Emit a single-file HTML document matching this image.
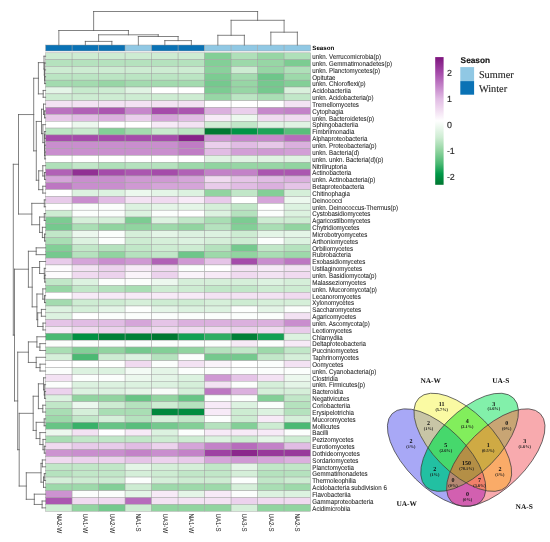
<!DOCTYPE html><html><head><meta charset="utf-8"><style>html,body{margin:0;padding:0;background:#fff;}svg{display:block}text{font-family:"Liberation Sans",sans-serif}.sf{font-family:"Liberation Serif",serif}</style></head><body>
<svg width="550" height="542" viewBox="0 0 550 542" style="transform:translateZ(0)" text-rendering="geometricPrecision">
<g stroke="#a0a0a0" stroke-width="0.45">
<rect x="45.60" y="52.80" width="26.50" height="6.843" fill="#cdecd2"/>
<rect x="72.10" y="52.80" width="26.50" height="6.843" fill="#cdecd2"/>
<rect x="98.60" y="52.80" width="26.50" height="6.843" fill="#cdecd2"/>
<rect x="125.10" y="52.80" width="26.50" height="6.843" fill="#cdecd2"/>
<rect x="151.60" y="52.80" width="26.50" height="6.843" fill="#cdecd2"/>
<rect x="178.10" y="52.80" width="26.50" height="6.843" fill="#cdecd2"/>
<rect x="204.60" y="52.80" width="26.50" height="6.843" fill="#83cf97"/>
<rect x="231.10" y="52.80" width="26.50" height="6.843" fill="#afe0b9"/>
<rect x="257.60" y="52.80" width="26.50" height="6.843" fill="#97d6a5"/>
<rect x="284.10" y="52.80" width="26.50" height="6.843" fill="#afe0b9"/>
<rect x="45.60" y="59.64" width="26.50" height="6.843" fill="#b5e2be"/>
<rect x="72.10" y="59.64" width="26.50" height="6.843" fill="#b5e2be"/>
<rect x="98.60" y="59.64" width="26.50" height="6.843" fill="#b5e2be"/>
<rect x="125.10" y="59.64" width="26.50" height="6.843" fill="#b5e2be"/>
<rect x="151.60" y="59.64" width="26.50" height="6.843" fill="#b5e2be"/>
<rect x="178.10" y="59.64" width="26.50" height="6.843" fill="#b5e2be"/>
<rect x="204.60" y="59.64" width="26.50" height="6.843" fill="#83cf97"/>
<rect x="231.10" y="59.64" width="26.50" height="6.843" fill="#9dd9aa"/>
<rect x="257.60" y="59.64" width="26.50" height="6.843" fill="#97d6a5"/>
<rect x="284.10" y="59.64" width="26.50" height="6.843" fill="#7ccc92"/>
<rect x="45.60" y="66.49" width="26.50" height="6.843" fill="#cdecd2"/>
<rect x="72.10" y="66.49" width="26.50" height="6.843" fill="#cdecd2"/>
<rect x="98.60" y="66.49" width="26.50" height="6.843" fill="#cdecd2"/>
<rect x="125.10" y="66.49" width="26.50" height="6.843" fill="#cdecd2"/>
<rect x="151.60" y="66.49" width="26.50" height="6.843" fill="#cdecd2"/>
<rect x="178.10" y="66.49" width="26.50" height="6.843" fill="#cdecd2"/>
<rect x="204.60" y="66.49" width="26.50" height="6.843" fill="#8ad19c"/>
<rect x="231.10" y="66.49" width="26.50" height="6.843" fill="#cdecd2"/>
<rect x="257.60" y="66.49" width="26.50" height="6.843" fill="#97d6a5"/>
<rect x="284.10" y="66.49" width="26.50" height="6.843" fill="#afe0b9"/>
<rect x="45.60" y="73.33" width="26.50" height="6.843" fill="#bbe5c3"/>
<rect x="72.10" y="73.33" width="26.50" height="6.843" fill="#bbe5c3"/>
<rect x="98.60" y="73.33" width="26.50" height="6.843" fill="#bbe5c3"/>
<rect x="125.10" y="73.33" width="26.50" height="6.843" fill="#bbe5c3"/>
<rect x="151.60" y="73.33" width="26.50" height="6.843" fill="#bbe5c3"/>
<rect x="178.10" y="73.33" width="26.50" height="6.843" fill="#bbe5c3"/>
<rect x="204.60" y="73.33" width="26.50" height="6.843" fill="#7ccc92"/>
<rect x="231.10" y="73.33" width="26.50" height="6.843" fill="#a3dbaf"/>
<rect x="257.60" y="73.33" width="26.50" height="6.843" fill="#6ec68a"/>
<rect x="284.10" y="73.33" width="26.50" height="6.843" fill="#9dd9aa"/>
<rect x="45.60" y="80.17" width="26.50" height="6.843" fill="#a3dbaf"/>
<rect x="72.10" y="80.17" width="26.50" height="6.843" fill="#a3dbaf"/>
<rect x="98.60" y="80.17" width="26.50" height="6.843" fill="#97d6a5"/>
<rect x="125.10" y="80.17" width="26.50" height="6.843" fill="#a3dbaf"/>
<rect x="151.60" y="80.17" width="26.50" height="6.843" fill="#a3dbaf"/>
<rect x="178.10" y="80.17" width="26.50" height="6.843" fill="#a3dbaf"/>
<rect x="204.60" y="80.17" width="26.50" height="6.843" fill="#75c98e"/>
<rect x="231.10" y="80.17" width="26.50" height="6.843" fill="#97d6a5"/>
<rect x="257.60" y="80.17" width="26.50" height="6.843" fill="#75c98e"/>
<rect x="284.10" y="80.17" width="26.50" height="6.843" fill="#83cf97"/>
<rect x="45.60" y="87.02" width="26.50" height="6.843" fill="#e4f5e7"/>
<rect x="72.10" y="87.02" width="26.50" height="6.843" fill="#c7eacd"/>
<rect x="98.60" y="87.02" width="26.50" height="6.843" fill="#cdecd2"/>
<rect x="125.10" y="87.02" width="26.50" height="6.843" fill="#e0f3e3"/>
<rect x="151.60" y="87.02" width="26.50" height="6.843" fill="#ffffff"/>
<rect x="178.10" y="87.02" width="26.50" height="6.843" fill="#ffffff"/>
<rect x="204.60" y="87.02" width="26.50" height="6.843" fill="#7ccc92"/>
<rect x="231.10" y="87.02" width="26.50" height="6.843" fill="#97d6a5"/>
<rect x="257.60" y="87.02" width="26.50" height="6.843" fill="#75c98e"/>
<rect x="284.10" y="87.02" width="26.50" height="6.843" fill="#d9f0dc"/>
<rect x="45.60" y="93.86" width="26.50" height="6.843" fill="#cdecd2"/>
<rect x="72.10" y="93.86" width="26.50" height="6.843" fill="#cdecd2"/>
<rect x="98.60" y="93.86" width="26.50" height="6.843" fill="#cdecd2"/>
<rect x="125.10" y="93.86" width="26.50" height="6.843" fill="#cdecd2"/>
<rect x="151.60" y="93.86" width="26.50" height="6.843" fill="#cdecd2"/>
<rect x="178.10" y="93.86" width="26.50" height="6.843" fill="#cdecd2"/>
<rect x="204.60" y="93.86" width="26.50" height="6.843" fill="#97d6a5"/>
<rect x="231.10" y="93.86" width="26.50" height="6.843" fill="#bbe5c3"/>
<rect x="257.60" y="93.86" width="26.50" height="6.843" fill="#a9deb4"/>
<rect x="284.10" y="93.86" width="26.50" height="6.843" fill="#c1e7c8"/>
<rect x="45.60" y="100.70" width="26.50" height="6.843" fill="#f3e2f3"/>
<rect x="72.10" y="100.70" width="26.50" height="6.843" fill="#f3e2f3"/>
<rect x="98.60" y="100.70" width="26.50" height="6.843" fill="#f3e2f3"/>
<rect x="125.10" y="100.70" width="26.50" height="6.843" fill="#f3e2f3"/>
<rect x="151.60" y="100.70" width="26.50" height="6.843" fill="#f3e2f3"/>
<rect x="178.10" y="100.70" width="26.50" height="6.843" fill="#f3e2f3"/>
<rect x="204.60" y="100.70" width="26.50" height="6.843" fill="#ffffff"/>
<rect x="231.10" y="100.70" width="26.50" height="6.843" fill="#ffffff"/>
<rect x="257.60" y="100.70" width="26.50" height="6.843" fill="#ffffff"/>
<rect x="284.10" y="100.70" width="26.50" height="6.843" fill="#f3e2f3"/>
<rect x="45.60" y="107.54" width="26.50" height="6.843" fill="#ba72bf"/>
<rect x="72.10" y="107.54" width="26.50" height="6.843" fill="#b161b6"/>
<rect x="98.60" y="107.54" width="26.50" height="6.843" fill="#ab56b0"/>
<rect x="125.10" y="107.54" width="26.50" height="6.843" fill="#c688cb"/>
<rect x="151.60" y="107.54" width="26.50" height="6.843" fill="#a54baa"/>
<rect x="178.10" y="107.54" width="26.50" height="6.843" fill="#ab56b0"/>
<rect x="204.60" y="107.54" width="26.50" height="6.843" fill="#dbb0de"/>
<rect x="231.10" y="107.54" width="26.50" height="6.843" fill="#eacfec"/>
<rect x="257.60" y="107.54" width="26.50" height="6.843" fill="#c688cb"/>
<rect x="284.10" y="107.54" width="26.50" height="6.843" fill="#c382c8"/>
<rect x="45.60" y="114.39" width="26.50" height="6.843" fill="#e7c7e8"/>
<rect x="72.10" y="114.39" width="26.50" height="6.843" fill="#e1bce4"/>
<rect x="98.60" y="114.39" width="26.50" height="6.843" fill="#dbb0de"/>
<rect x="125.10" y="114.39" width="26.50" height="6.843" fill="#eacfec"/>
<rect x="151.60" y="114.39" width="26.50" height="6.843" fill="#d5a5d9"/>
<rect x="178.10" y="114.39" width="26.50" height="6.843" fill="#e1bce4"/>
<rect x="204.60" y="114.39" width="26.50" height="6.843" fill="#f7eaf7"/>
<rect x="231.10" y="114.39" width="26.50" height="6.843" fill="#ecf8ee"/>
<rect x="257.60" y="114.39" width="26.50" height="6.843" fill="#f0daf0"/>
<rect x="284.10" y="114.39" width="26.50" height="6.843" fill="#f0daf0"/>
<rect x="45.60" y="121.23" width="26.50" height="6.843" fill="#ffffff"/>
<rect x="72.10" y="121.23" width="26.50" height="6.843" fill="#ecf8ee"/>
<rect x="98.60" y="121.23" width="26.50" height="6.843" fill="#ffffff"/>
<rect x="125.10" y="121.23" width="26.50" height="6.843" fill="#ffffff"/>
<rect x="151.60" y="121.23" width="26.50" height="6.843" fill="#f7eaf7"/>
<rect x="178.10" y="121.23" width="26.50" height="6.843" fill="#f3e2f3"/>
<rect x="204.60" y="121.23" width="26.50" height="6.843" fill="#d1edd5"/>
<rect x="231.10" y="121.23" width="26.50" height="6.843" fill="#c1e7c8"/>
<rect x="257.60" y="121.23" width="26.50" height="6.843" fill="#e0f3e3"/>
<rect x="284.10" y="121.23" width="26.50" height="6.843" fill="#e0f3e3"/>
<rect x="45.60" y="128.07" width="26.50" height="6.843" fill="#bbe5c3"/>
<rect x="72.10" y="128.07" width="26.50" height="6.843" fill="#c7eacd"/>
<rect x="98.60" y="128.07" width="26.50" height="6.843" fill="#83cf97"/>
<rect x="125.10" y="128.07" width="26.50" height="6.843" fill="#a3dbaf"/>
<rect x="151.60" y="128.07" width="26.50" height="6.843" fill="#c7eacd"/>
<rect x="178.10" y="128.07" width="26.50" height="6.843" fill="#bbe5c3"/>
<rect x="204.60" y="128.07" width="26.50" height="6.843" fill="#007831"/>
<rect x="231.10" y="128.07" width="26.50" height="6.843" fill="#009445"/>
<rect x="257.60" y="128.07" width="26.50" height="6.843" fill="#1ca458"/>
<rect x="284.10" y="128.07" width="26.50" height="6.843" fill="#59be7c"/>
<rect x="45.60" y="134.92" width="26.50" height="6.843" fill="#a54baa"/>
<rect x="72.10" y="134.92" width="26.50" height="6.843" fill="#a54baa"/>
<rect x="98.60" y="134.92" width="26.50" height="6.843" fill="#a54baa"/>
<rect x="125.10" y="134.92" width="26.50" height="6.843" fill="#a54baa"/>
<rect x="151.60" y="134.92" width="26.50" height="6.843" fill="#a54baa"/>
<rect x="178.10" y="134.92" width="26.50" height="6.843" fill="#872289"/>
<rect x="204.60" y="134.92" width="26.50" height="6.843" fill="#cf99d3"/>
<rect x="231.10" y="134.92" width="26.50" height="6.843" fill="#c688cb"/>
<rect x="257.60" y="134.92" width="26.50" height="6.843" fill="#c688cb"/>
<rect x="284.10" y="134.92" width="26.50" height="6.843" fill="#b76cbc"/>
<rect x="45.60" y="141.76" width="26.50" height="6.843" fill="#c98ece"/>
<rect x="72.10" y="141.76" width="26.50" height="6.843" fill="#c98ece"/>
<rect x="98.60" y="141.76" width="26.50" height="6.843" fill="#c98ece"/>
<rect x="125.10" y="141.76" width="26.50" height="6.843" fill="#c98ece"/>
<rect x="151.60" y="141.76" width="26.50" height="6.843" fill="#c98ece"/>
<rect x="178.10" y="141.76" width="26.50" height="6.843" fill="#c07cc5"/>
<rect x="204.60" y="141.76" width="26.50" height="6.843" fill="#eacfec"/>
<rect x="231.10" y="141.76" width="26.50" height="6.843" fill="#e1bce4"/>
<rect x="257.60" y="141.76" width="26.50" height="6.843" fill="#e7c7e8"/>
<rect x="284.10" y="141.76" width="26.50" height="6.843" fill="#dbb0de"/>
<rect x="45.60" y="148.60" width="26.50" height="6.843" fill="#c98ece"/>
<rect x="72.10" y="148.60" width="26.50" height="6.843" fill="#c98ece"/>
<rect x="98.60" y="148.60" width="26.50" height="6.843" fill="#c98ece"/>
<rect x="125.10" y="148.60" width="26.50" height="6.843" fill="#c98ece"/>
<rect x="151.60" y="148.60" width="26.50" height="6.843" fill="#c98ece"/>
<rect x="178.10" y="148.60" width="26.50" height="6.843" fill="#c07cc5"/>
<rect x="204.60" y="148.60" width="26.50" height="6.843" fill="#e1bce4"/>
<rect x="231.10" y="148.60" width="26.50" height="6.843" fill="#d29fd6"/>
<rect x="257.60" y="148.60" width="26.50" height="6.843" fill="#cf99d3"/>
<rect x="284.10" y="148.60" width="26.50" height="6.843" fill="#d29fd6"/>
<rect x="45.60" y="155.44" width="26.50" height="6.843" fill="#ffffff"/>
<rect x="72.10" y="155.44" width="26.50" height="6.843" fill="#ffffff"/>
<rect x="98.60" y="155.44" width="26.50" height="6.843" fill="#ffffff"/>
<rect x="125.10" y="155.44" width="26.50" height="6.843" fill="#ffffff"/>
<rect x="151.60" y="155.44" width="26.50" height="6.843" fill="#ffffff"/>
<rect x="178.10" y="155.44" width="26.50" height="6.843" fill="#ffffff"/>
<rect x="204.60" y="155.44" width="26.50" height="6.843" fill="#e0f3e3"/>
<rect x="231.10" y="155.44" width="26.50" height="6.843" fill="#e0f3e3"/>
<rect x="257.60" y="155.44" width="26.50" height="6.843" fill="#e0f3e3"/>
<rect x="284.10" y="155.44" width="26.50" height="6.843" fill="#e0f3e3"/>
<rect x="45.60" y="162.29" width="26.50" height="6.843" fill="#afe0b9"/>
<rect x="72.10" y="162.29" width="26.50" height="6.843" fill="#c1e7c8"/>
<rect x="98.60" y="162.29" width="26.50" height="6.843" fill="#afe0b9"/>
<rect x="125.10" y="162.29" width="26.50" height="6.843" fill="#b5e2be"/>
<rect x="151.60" y="162.29" width="26.50" height="6.843" fill="#b5e2be"/>
<rect x="178.10" y="162.29" width="26.50" height="6.843" fill="#9dd9aa"/>
<rect x="204.60" y="162.29" width="26.50" height="6.843" fill="#91d4a0"/>
<rect x="231.10" y="162.29" width="26.50" height="6.843" fill="#97d6a5"/>
<rect x="257.60" y="162.29" width="26.50" height="6.843" fill="#97d6a5"/>
<rect x="284.10" y="162.29" width="26.50" height="6.843" fill="#91d4a0"/>
<rect x="45.60" y="169.13" width="26.50" height="6.843" fill="#b161b6"/>
<rect x="72.10" y="169.13" width="26.50" height="6.843" fill="#913094"/>
<rect x="98.60" y="169.13" width="26.50" height="6.843" fill="#a54baa"/>
<rect x="125.10" y="169.13" width="26.50" height="6.843" fill="#ab56b0"/>
<rect x="151.60" y="169.13" width="26.50" height="6.843" fill="#a54baa"/>
<rect x="178.10" y="169.13" width="26.50" height="6.843" fill="#b161b6"/>
<rect x="204.60" y="169.13" width="26.50" height="6.843" fill="#c382c8"/>
<rect x="231.10" y="169.13" width="26.50" height="6.843" fill="#c382c8"/>
<rect x="257.60" y="169.13" width="26.50" height="6.843" fill="#ab56b0"/>
<rect x="284.10" y="169.13" width="26.50" height="6.843" fill="#ab56b0"/>
<rect x="45.60" y="175.97" width="26.50" height="6.843" fill="#d5a5d9"/>
<rect x="72.10" y="175.97" width="26.50" height="6.843" fill="#c98ece"/>
<rect x="98.60" y="175.97" width="26.50" height="6.843" fill="#c98ece"/>
<rect x="125.10" y="175.97" width="26.50" height="6.843" fill="#cf99d3"/>
<rect x="151.60" y="175.97" width="26.50" height="6.843" fill="#cf99d3"/>
<rect x="178.10" y="175.97" width="26.50" height="6.843" fill="#d5a5d9"/>
<rect x="204.60" y="175.97" width="26.50" height="6.843" fill="#f0daf0"/>
<rect x="231.10" y="175.97" width="26.50" height="6.843" fill="#e5c4e7"/>
<rect x="257.60" y="175.97" width="26.50" height="6.843" fill="#e1bce4"/>
<rect x="284.10" y="175.97" width="26.50" height="6.843" fill="#dbb0de"/>
<rect x="45.60" y="182.82" width="26.50" height="6.843" fill="#bd77c2"/>
<rect x="72.10" y="182.82" width="26.50" height="6.843" fill="#c98ece"/>
<rect x="98.60" y="182.82" width="26.50" height="6.843" fill="#c98ece"/>
<rect x="125.10" y="182.82" width="26.50" height="6.843" fill="#cf99d3"/>
<rect x="151.60" y="182.82" width="26.50" height="6.843" fill="#d5a5d9"/>
<rect x="178.10" y="182.82" width="26.50" height="6.843" fill="#d5a5d9"/>
<rect x="204.60" y="182.82" width="26.50" height="6.843" fill="#e8cbea"/>
<rect x="231.10" y="182.82" width="26.50" height="6.843" fill="#e1bce4"/>
<rect x="257.60" y="182.82" width="26.50" height="6.843" fill="#dbb0de"/>
<rect x="284.10" y="182.82" width="26.50" height="6.843" fill="#e5c4e7"/>
<rect x="45.60" y="189.66" width="26.50" height="6.843" fill="#ffffff"/>
<rect x="72.10" y="189.66" width="26.50" height="6.843" fill="#dcf2e0"/>
<rect x="98.60" y="189.66" width="26.50" height="6.843" fill="#dcf2e0"/>
<rect x="125.10" y="189.66" width="26.50" height="6.843" fill="#ecf8ee"/>
<rect x="151.60" y="189.66" width="26.50" height="6.843" fill="#e4f5e7"/>
<rect x="178.10" y="189.66" width="26.50" height="6.843" fill="#dcf2e0"/>
<rect x="204.60" y="189.66" width="26.50" height="6.843" fill="#91d4a0"/>
<rect x="231.10" y="189.66" width="26.50" height="6.843" fill="#c1e7c8"/>
<rect x="257.60" y="189.66" width="26.50" height="6.843" fill="#83cf97"/>
<rect x="284.10" y="189.66" width="26.50" height="6.843" fill="#d5efd9"/>
<rect x="45.60" y="196.50" width="26.50" height="6.843" fill="#e8cbea"/>
<rect x="72.10" y="196.50" width="26.50" height="6.843" fill="#c98ece"/>
<rect x="98.60" y="196.50" width="26.50" height="6.843" fill="#e1bce4"/>
<rect x="125.10" y="196.50" width="26.50" height="6.843" fill="#f3e2f3"/>
<rect x="151.60" y="196.50" width="26.50" height="6.843" fill="#f0daf0"/>
<rect x="178.10" y="196.50" width="26.50" height="6.843" fill="#f7eaf7"/>
<rect x="204.60" y="196.50" width="26.50" height="6.843" fill="#e8cbea"/>
<rect x="231.10" y="196.50" width="26.50" height="6.843" fill="#ffffff"/>
<rect x="257.60" y="196.50" width="26.50" height="6.843" fill="#d5a5d9"/>
<rect x="284.10" y="196.50" width="26.50" height="6.843" fill="#ecf8ee"/>
<rect x="45.60" y="203.35" width="26.50" height="6.843" fill="#ffffff"/>
<rect x="72.10" y="203.35" width="26.50" height="6.843" fill="#fbfefc"/>
<rect x="98.60" y="203.35" width="26.50" height="6.843" fill="#fbfefc"/>
<rect x="125.10" y="203.35" width="26.50" height="6.843" fill="#dcf2e0"/>
<rect x="151.60" y="203.35" width="26.50" height="6.843" fill="#e4f5e7"/>
<rect x="178.10" y="203.35" width="26.50" height="6.843" fill="#e4f5e7"/>
<rect x="204.60" y="203.35" width="26.50" height="6.843" fill="#d5efd9"/>
<rect x="231.10" y="203.35" width="26.50" height="6.843" fill="#c1e7c8"/>
<rect x="257.60" y="203.35" width="26.50" height="6.843" fill="#ffffff"/>
<rect x="284.10" y="203.35" width="26.50" height="6.843" fill="#dcf2e0"/>
<rect x="45.60" y="210.19" width="26.50" height="6.843" fill="#cdecd2"/>
<rect x="72.10" y="210.19" width="26.50" height="6.843" fill="#fbfefc"/>
<rect x="98.60" y="210.19" width="26.50" height="6.843" fill="#fbfefc"/>
<rect x="125.10" y="210.19" width="26.50" height="6.843" fill="#dcf2e0"/>
<rect x="151.60" y="210.19" width="26.50" height="6.843" fill="#fbfefc"/>
<rect x="178.10" y="210.19" width="26.50" height="6.843" fill="#ffffff"/>
<rect x="204.60" y="210.19" width="26.50" height="6.843" fill="#dcf2e0"/>
<rect x="231.10" y="210.19" width="26.50" height="6.843" fill="#b5e2be"/>
<rect x="257.60" y="210.19" width="26.50" height="6.843" fill="#fbfefc"/>
<rect x="284.10" y="210.19" width="26.50" height="6.843" fill="#dcf2e0"/>
<rect x="45.60" y="217.03" width="26.50" height="6.843" fill="#7ccc92"/>
<rect x="72.10" y="217.03" width="26.50" height="6.843" fill="#d5efd9"/>
<rect x="98.60" y="217.03" width="26.50" height="6.843" fill="#d5efd9"/>
<rect x="125.10" y="217.03" width="26.50" height="6.843" fill="#7ccc92"/>
<rect x="151.60" y="217.03" width="26.50" height="6.843" fill="#dcf2e0"/>
<rect x="178.10" y="217.03" width="26.50" height="6.843" fill="#c1e7c8"/>
<rect x="204.60" y="217.03" width="26.50" height="6.843" fill="#a9deb4"/>
<rect x="231.10" y="217.03" width="26.50" height="6.843" fill="#7ccc92"/>
<rect x="257.60" y="217.03" width="26.50" height="6.843" fill="#cdecd2"/>
<rect x="284.10" y="217.03" width="26.50" height="6.843" fill="#cdecd2"/>
<rect x="45.60" y="223.88" width="26.50" height="6.843" fill="#75c98e"/>
<rect x="72.10" y="223.88" width="26.50" height="6.843" fill="#a9deb4"/>
<rect x="98.60" y="223.88" width="26.50" height="6.843" fill="#91d4a0"/>
<rect x="125.10" y="223.88" width="26.50" height="6.843" fill="#91d4a0"/>
<rect x="151.60" y="223.88" width="26.50" height="6.843" fill="#9dd9aa"/>
<rect x="178.10" y="223.88" width="26.50" height="6.843" fill="#91d4a0"/>
<rect x="204.60" y="223.88" width="26.50" height="6.843" fill="#b5e2be"/>
<rect x="231.10" y="223.88" width="26.50" height="6.843" fill="#83cf97"/>
<rect x="257.60" y="223.88" width="26.50" height="6.843" fill="#a9deb4"/>
<rect x="284.10" y="223.88" width="26.50" height="6.843" fill="#91d4a0"/>
<rect x="45.60" y="230.72" width="26.50" height="6.843" fill="#c1e7c8"/>
<rect x="72.10" y="230.72" width="26.50" height="6.843" fill="#ecf8ee"/>
<rect x="98.60" y="230.72" width="26.50" height="6.843" fill="#fbfefc"/>
<rect x="125.10" y="230.72" width="26.50" height="6.843" fill="#d5efd9"/>
<rect x="151.60" y="230.72" width="26.50" height="6.843" fill="#e4f5e7"/>
<rect x="178.10" y="230.72" width="26.50" height="6.843" fill="#dcf2e0"/>
<rect x="204.60" y="230.72" width="26.50" height="6.843" fill="#dcf2e0"/>
<rect x="231.10" y="230.72" width="26.50" height="6.843" fill="#cdecd2"/>
<rect x="257.60" y="230.72" width="26.50" height="6.843" fill="#e4f5e7"/>
<rect x="284.10" y="230.72" width="26.50" height="6.843" fill="#e4f5e7"/>
<rect x="45.60" y="237.56" width="26.50" height="6.843" fill="#a9deb4"/>
<rect x="72.10" y="237.56" width="26.50" height="6.843" fill="#dcf2e0"/>
<rect x="98.60" y="237.56" width="26.50" height="6.843" fill="#fbfefc"/>
<rect x="125.10" y="237.56" width="26.50" height="6.843" fill="#cdecd2"/>
<rect x="151.60" y="237.56" width="26.50" height="6.843" fill="#d5efd9"/>
<rect x="178.10" y="237.56" width="26.50" height="6.843" fill="#dcf2e0"/>
<rect x="204.60" y="237.56" width="26.50" height="6.843" fill="#d5efd9"/>
<rect x="231.10" y="237.56" width="26.50" height="6.843" fill="#cdecd2"/>
<rect x="257.60" y="237.56" width="26.50" height="6.843" fill="#fbfefc"/>
<rect x="284.10" y="237.56" width="26.50" height="6.843" fill="#dcf2e0"/>
<rect x="45.60" y="244.40" width="26.50" height="6.843" fill="#83cf97"/>
<rect x="72.10" y="244.40" width="26.50" height="6.843" fill="#c1e7c8"/>
<rect x="98.60" y="244.40" width="26.50" height="6.843" fill="#b5e2be"/>
<rect x="125.10" y="244.40" width="26.50" height="6.843" fill="#c1e7c8"/>
<rect x="151.60" y="244.40" width="26.50" height="6.843" fill="#cdecd2"/>
<rect x="178.10" y="244.40" width="26.50" height="6.843" fill="#cdecd2"/>
<rect x="204.60" y="244.40" width="26.50" height="6.843" fill="#b5e2be"/>
<rect x="231.10" y="244.40" width="26.50" height="6.843" fill="#75c98e"/>
<rect x="257.60" y="244.40" width="26.50" height="6.843" fill="#c1e7c8"/>
<rect x="284.10" y="244.40" width="26.50" height="6.843" fill="#b5e2be"/>
<rect x="45.60" y="251.25" width="26.50" height="6.843" fill="#75c98e"/>
<rect x="72.10" y="251.25" width="26.50" height="6.843" fill="#b5e2be"/>
<rect x="98.60" y="251.25" width="26.50" height="6.843" fill="#91d4a0"/>
<rect x="125.10" y="251.25" width="26.50" height="6.843" fill="#b5e2be"/>
<rect x="151.60" y="251.25" width="26.50" height="6.843" fill="#c1e7c8"/>
<rect x="178.10" y="251.25" width="26.50" height="6.843" fill="#6ec68a"/>
<rect x="204.60" y="251.25" width="26.50" height="6.843" fill="#9dd9aa"/>
<rect x="231.10" y="251.25" width="26.50" height="6.843" fill="#91d4a0"/>
<rect x="257.60" y="251.25" width="26.50" height="6.843" fill="#a9deb4"/>
<rect x="284.10" y="251.25" width="26.50" height="6.843" fill="#9dd9aa"/>
<rect x="45.60" y="258.09" width="26.50" height="6.843" fill="#e8cbea"/>
<rect x="72.10" y="258.09" width="26.50" height="6.843" fill="#d5a5d9"/>
<rect x="98.60" y="258.09" width="26.50" height="6.843" fill="#c98ece"/>
<rect x="125.10" y="258.09" width="26.50" height="6.843" fill="#cf99d3"/>
<rect x="151.60" y="258.09" width="26.50" height="6.843" fill="#b161b6"/>
<rect x="178.10" y="258.09" width="26.50" height="6.843" fill="#cf99d3"/>
<rect x="204.60" y="258.09" width="26.50" height="6.843" fill="#e5c4e7"/>
<rect x="231.10" y="258.09" width="26.50" height="6.843" fill="#a54baa"/>
<rect x="257.60" y="258.09" width="26.50" height="6.843" fill="#c98ece"/>
<rect x="284.10" y="258.09" width="26.50" height="6.843" fill="#bd77c2"/>
<rect x="45.60" y="264.93" width="26.50" height="6.843" fill="#fdfbfd"/>
<rect x="72.10" y="264.93" width="26.50" height="6.843" fill="#f3e2f3"/>
<rect x="98.60" y="264.93" width="26.50" height="6.843" fill="#ecd2ed"/>
<rect x="125.10" y="264.93" width="26.50" height="6.843" fill="#f7eaf7"/>
<rect x="151.60" y="264.93" width="26.50" height="6.843" fill="#f0daf0"/>
<rect x="178.10" y="264.93" width="26.50" height="6.843" fill="#fbfefc"/>
<rect x="204.60" y="264.93" width="26.50" height="6.843" fill="#ffffff"/>
<rect x="231.10" y="264.93" width="26.50" height="6.843" fill="#f3e2f3"/>
<rect x="257.60" y="264.93" width="26.50" height="6.843" fill="#f7eaf7"/>
<rect x="284.10" y="264.93" width="26.50" height="6.843" fill="#f3e2f3"/>
<rect x="45.60" y="271.78" width="26.50" height="6.843" fill="#fdfbfd"/>
<rect x="72.10" y="271.78" width="26.50" height="6.843" fill="#f0daf0"/>
<rect x="98.60" y="271.78" width="26.50" height="6.843" fill="#ecd2ed"/>
<rect x="125.10" y="271.78" width="26.50" height="6.843" fill="#faf3fa"/>
<rect x="151.60" y="271.78" width="26.50" height="6.843" fill="#ecd2ed"/>
<rect x="178.10" y="271.78" width="26.50" height="6.843" fill="#faf3fa"/>
<rect x="204.60" y="271.78" width="26.50" height="6.843" fill="#f7eaf7"/>
<rect x="231.10" y="271.78" width="26.50" height="6.843" fill="#f0daf0"/>
<rect x="257.60" y="271.78" width="26.50" height="6.843" fill="#f3e2f3"/>
<rect x="284.10" y="271.78" width="26.50" height="6.843" fill="#f0daf0"/>
<rect x="45.60" y="278.62" width="26.50" height="6.843" fill="#c1e7c8"/>
<rect x="72.10" y="278.62" width="26.50" height="6.843" fill="#dcf2e0"/>
<rect x="98.60" y="278.62" width="26.50" height="6.843" fill="#fbfefc"/>
<rect x="125.10" y="278.62" width="26.50" height="6.843" fill="#fbfefc"/>
<rect x="151.60" y="278.62" width="26.50" height="6.843" fill="#ecf8ee"/>
<rect x="178.10" y="278.62" width="26.50" height="6.843" fill="#d5efd9"/>
<rect x="204.60" y="278.62" width="26.50" height="6.843" fill="#d5efd9"/>
<rect x="231.10" y="278.62" width="26.50" height="6.843" fill="#d5efd9"/>
<rect x="257.60" y="278.62" width="26.50" height="6.843" fill="#dcf2e0"/>
<rect x="284.10" y="278.62" width="26.50" height="6.843" fill="#d5efd9"/>
<rect x="45.60" y="285.46" width="26.50" height="6.843" fill="#97d6a5"/>
<rect x="72.10" y="285.46" width="26.50" height="6.843" fill="#c1e7c8"/>
<rect x="98.60" y="285.46" width="26.50" height="6.843" fill="#b5e2be"/>
<rect x="125.10" y="285.46" width="26.50" height="6.843" fill="#a9deb4"/>
<rect x="151.60" y="285.46" width="26.50" height="6.843" fill="#cdecd2"/>
<rect x="178.10" y="285.46" width="26.50" height="6.843" fill="#cdecd2"/>
<rect x="204.60" y="285.46" width="26.50" height="6.843" fill="#c1e7c8"/>
<rect x="231.10" y="285.46" width="26.50" height="6.843" fill="#c1e7c8"/>
<rect x="257.60" y="285.46" width="26.50" height="6.843" fill="#cdecd2"/>
<rect x="284.10" y="285.46" width="26.50" height="6.843" fill="#cdecd2"/>
<rect x="45.60" y="292.31" width="26.50" height="6.843" fill="#ffffff"/>
<rect x="72.10" y="292.31" width="26.50" height="6.843" fill="#f7eaf7"/>
<rect x="98.60" y="292.31" width="26.50" height="6.843" fill="#f7eaf7"/>
<rect x="125.10" y="292.31" width="26.50" height="6.843" fill="#f7eaf7"/>
<rect x="151.60" y="292.31" width="26.50" height="6.843" fill="#f7eaf7"/>
<rect x="178.10" y="292.31" width="26.50" height="6.843" fill="#f7eaf7"/>
<rect x="204.60" y="292.31" width="26.50" height="6.843" fill="#f3e2f3"/>
<rect x="231.10" y="292.31" width="26.50" height="6.843" fill="#f3e2f3"/>
<rect x="257.60" y="292.31" width="26.50" height="6.843" fill="#f3e2f3"/>
<rect x="284.10" y="292.31" width="26.50" height="6.843" fill="#f0daf0"/>
<rect x="45.60" y="299.15" width="26.50" height="6.843" fill="#a3dbaf"/>
<rect x="72.10" y="299.15" width="26.50" height="6.843" fill="#cdecd2"/>
<rect x="98.60" y="299.15" width="26.50" height="6.843" fill="#cdecd2"/>
<rect x="125.10" y="299.15" width="26.50" height="6.843" fill="#d5efd9"/>
<rect x="151.60" y="299.15" width="26.50" height="6.843" fill="#cdecd2"/>
<rect x="178.10" y="299.15" width="26.50" height="6.843" fill="#cdecd2"/>
<rect x="204.60" y="299.15" width="26.50" height="6.843" fill="#d5efd9"/>
<rect x="231.10" y="299.15" width="26.50" height="6.843" fill="#cdecd2"/>
<rect x="257.60" y="299.15" width="26.50" height="6.843" fill="#d5efd9"/>
<rect x="284.10" y="299.15" width="26.50" height="6.843" fill="#d5efd9"/>
<rect x="45.60" y="305.99" width="26.50" height="6.843" fill="#dcf2e0"/>
<rect x="72.10" y="305.99" width="26.50" height="6.843" fill="#d5efd9"/>
<rect x="98.60" y="305.99" width="26.50" height="6.843" fill="#e4f5e7"/>
<rect x="125.10" y="305.99" width="26.50" height="6.843" fill="#fbfefc"/>
<rect x="151.60" y="305.99" width="26.50" height="6.843" fill="#e4f5e7"/>
<rect x="178.10" y="305.99" width="26.50" height="6.843" fill="#dcf2e0"/>
<rect x="204.60" y="305.99" width="26.50" height="6.843" fill="#dcf2e0"/>
<rect x="231.10" y="305.99" width="26.50" height="6.843" fill="#fbfefc"/>
<rect x="257.60" y="305.99" width="26.50" height="6.843" fill="#e4f5e7"/>
<rect x="284.10" y="305.99" width="26.50" height="6.843" fill="#fbfefc"/>
<rect x="45.60" y="312.83" width="26.50" height="6.843" fill="#dcf2e0"/>
<rect x="72.10" y="312.83" width="26.50" height="6.843" fill="#ffffff"/>
<rect x="98.60" y="312.83" width="26.50" height="6.843" fill="#fbfefc"/>
<rect x="125.10" y="312.83" width="26.50" height="6.843" fill="#fbfefc"/>
<rect x="151.60" y="312.83" width="26.50" height="6.843" fill="#fbfefc"/>
<rect x="178.10" y="312.83" width="26.50" height="6.843" fill="#fbfefc"/>
<rect x="204.60" y="312.83" width="26.50" height="6.843" fill="#fbfefc"/>
<rect x="231.10" y="312.83" width="26.50" height="6.843" fill="#fbfefc"/>
<rect x="257.60" y="312.83" width="26.50" height="6.843" fill="#fbfefc"/>
<rect x="284.10" y="312.83" width="26.50" height="6.843" fill="#f3e2f3"/>
<rect x="45.60" y="319.68" width="26.50" height="6.843" fill="#e5c4e7"/>
<rect x="72.10" y="319.68" width="26.50" height="6.843" fill="#e1bce4"/>
<rect x="98.60" y="319.68" width="26.50" height="6.843" fill="#e1bce4"/>
<rect x="125.10" y="319.68" width="26.50" height="6.843" fill="#d5a5d9"/>
<rect x="151.60" y="319.68" width="26.50" height="6.843" fill="#e5c4e7"/>
<rect x="178.10" y="319.68" width="26.50" height="6.843" fill="#dbb0de"/>
<rect x="204.60" y="319.68" width="26.50" height="6.843" fill="#dbb0de"/>
<rect x="231.10" y="319.68" width="26.50" height="6.843" fill="#dbb0de"/>
<rect x="257.60" y="319.68" width="26.50" height="6.843" fill="#dbb0de"/>
<rect x="284.10" y="319.68" width="26.50" height="6.843" fill="#c98ece"/>
<rect x="45.60" y="326.52" width="26.50" height="6.843" fill="#f7eaf7"/>
<rect x="72.10" y="326.52" width="26.50" height="6.843" fill="#f0daf0"/>
<rect x="98.60" y="326.52" width="26.50" height="6.843" fill="#ecd2ed"/>
<rect x="125.10" y="326.52" width="26.50" height="6.843" fill="#ecd2ed"/>
<rect x="151.60" y="326.52" width="26.50" height="6.843" fill="#f0daf0"/>
<rect x="178.10" y="326.52" width="26.50" height="6.843" fill="#f0daf0"/>
<rect x="204.60" y="326.52" width="26.50" height="6.843" fill="#f0daf0"/>
<rect x="231.10" y="326.52" width="26.50" height="6.843" fill="#ecd2ed"/>
<rect x="257.60" y="326.52" width="26.50" height="6.843" fill="#f0daf0"/>
<rect x="284.10" y="326.52" width="26.50" height="6.843" fill="#e8cbea"/>
<rect x="45.60" y="333.36" width="26.50" height="6.843" fill="#4bb973"/>
<rect x="72.10" y="333.36" width="26.50" height="6.843" fill="#009042"/>
<rect x="98.60" y="333.36" width="26.50" height="6.843" fill="#008037"/>
<rect x="125.10" y="333.36" width="26.50" height="6.843" fill="#008037"/>
<rect x="151.60" y="333.36" width="26.50" height="6.843" fill="#007831"/>
<rect x="178.10" y="333.36" width="26.50" height="6.843" fill="#13a053"/>
<rect x="204.60" y="333.36" width="26.50" height="6.843" fill="#2fad63"/>
<rect x="231.10" y="333.36" width="26.50" height="6.843" fill="#008037"/>
<rect x="257.60" y="333.36" width="26.50" height="6.843" fill="#13a053"/>
<rect x="284.10" y="333.36" width="26.50" height="6.843" fill="#dcf2e0"/>
<rect x="45.60" y="340.21" width="26.50" height="6.843" fill="#fbfefc"/>
<rect x="72.10" y="340.21" width="26.50" height="6.843" fill="#fbfefc"/>
<rect x="98.60" y="340.21" width="26.50" height="6.843" fill="#fbfefc"/>
<rect x="125.10" y="340.21" width="26.50" height="6.843" fill="#fbfefc"/>
<rect x="151.60" y="340.21" width="26.50" height="6.843" fill="#fbfefc"/>
<rect x="178.10" y="340.21" width="26.50" height="6.843" fill="#fbfefc"/>
<rect x="204.60" y="340.21" width="26.50" height="6.843" fill="#fbfefc"/>
<rect x="231.10" y="340.21" width="26.50" height="6.843" fill="#f7eaf7"/>
<rect x="257.60" y="340.21" width="26.50" height="6.843" fill="#fbfefc"/>
<rect x="284.10" y="340.21" width="26.50" height="6.843" fill="#f7eaf7"/>
<rect x="45.60" y="347.05" width="26.50" height="6.843" fill="#a9deb4"/>
<rect x="72.10" y="347.05" width="26.50" height="6.843" fill="#83cf97"/>
<rect x="98.60" y="347.05" width="26.50" height="6.843" fill="#91d4a0"/>
<rect x="125.10" y="347.05" width="26.50" height="6.843" fill="#75c98e"/>
<rect x="151.60" y="347.05" width="26.50" height="6.843" fill="#83cf97"/>
<rect x="178.10" y="347.05" width="26.50" height="6.843" fill="#91d4a0"/>
<rect x="204.60" y="347.05" width="26.50" height="6.843" fill="#b5e2be"/>
<rect x="231.10" y="347.05" width="26.50" height="6.843" fill="#c1e7c8"/>
<rect x="257.60" y="347.05" width="26.50" height="6.843" fill="#9dd9aa"/>
<rect x="284.10" y="347.05" width="26.50" height="6.843" fill="#c1e7c8"/>
<rect x="45.60" y="353.89" width="26.50" height="6.843" fill="#d5efd9"/>
<rect x="72.10" y="353.89" width="26.50" height="6.843" fill="#4bb973"/>
<rect x="98.60" y="353.89" width="26.50" height="6.843" fill="#cdecd2"/>
<rect x="125.10" y="353.89" width="26.50" height="6.843" fill="#dcf2e0"/>
<rect x="151.60" y="353.89" width="26.50" height="6.843" fill="#b5e2be"/>
<rect x="178.10" y="353.89" width="26.50" height="6.843" fill="#fbfefc"/>
<rect x="204.60" y="353.89" width="26.50" height="6.843" fill="#75c98e"/>
<rect x="231.10" y="353.89" width="26.50" height="6.843" fill="#75c98e"/>
<rect x="257.60" y="353.89" width="26.50" height="6.843" fill="#c1e7c8"/>
<rect x="284.10" y="353.89" width="26.50" height="6.843" fill="#d5efd9"/>
<rect x="45.60" y="360.74" width="26.50" height="6.843" fill="#ffffff"/>
<rect x="72.10" y="360.74" width="26.50" height="6.843" fill="#ffffff"/>
<rect x="98.60" y="360.74" width="26.50" height="6.843" fill="#ffffff"/>
<rect x="125.10" y="360.74" width="26.50" height="6.843" fill="#f0daf0"/>
<rect x="151.60" y="360.74" width="26.50" height="6.843" fill="#fbfefc"/>
<rect x="178.10" y="360.74" width="26.50" height="6.843" fill="#f3e2f3"/>
<rect x="204.60" y="360.74" width="26.50" height="6.843" fill="#faf3fa"/>
<rect x="231.10" y="360.74" width="26.50" height="6.843" fill="#ffffff"/>
<rect x="257.60" y="360.74" width="26.50" height="6.843" fill="#fbfefc"/>
<rect x="284.10" y="360.74" width="26.50" height="6.843" fill="#f3e2f3"/>
<rect x="45.60" y="367.58" width="26.50" height="6.843" fill="#fbfefc"/>
<rect x="72.10" y="367.58" width="26.50" height="6.843" fill="#dcf2e0"/>
<rect x="98.60" y="367.58" width="26.50" height="6.843" fill="#dcf2e0"/>
<rect x="125.10" y="367.58" width="26.50" height="6.843" fill="#f3fbf5"/>
<rect x="151.60" y="367.58" width="26.50" height="6.843" fill="#e4f5e7"/>
<rect x="178.10" y="367.58" width="26.50" height="6.843" fill="#fbfefc"/>
<rect x="204.60" y="367.58" width="26.50" height="6.843" fill="#fbfefc"/>
<rect x="231.10" y="367.58" width="26.50" height="6.843" fill="#fbfefc"/>
<rect x="257.60" y="367.58" width="26.50" height="6.843" fill="#fbfefc"/>
<rect x="284.10" y="367.58" width="26.50" height="6.843" fill="#fbfefc"/>
<rect x="45.60" y="374.42" width="26.50" height="6.843" fill="#f3e2f3"/>
<rect x="72.10" y="374.42" width="26.50" height="6.843" fill="#fbfefc"/>
<rect x="98.60" y="374.42" width="26.50" height="6.843" fill="#fbfefc"/>
<rect x="125.10" y="374.42" width="26.50" height="6.843" fill="#ecf8ee"/>
<rect x="151.60" y="374.42" width="26.50" height="6.843" fill="#e4f5e7"/>
<rect x="178.10" y="374.42" width="26.50" height="6.843" fill="#dcf2e0"/>
<rect x="204.60" y="374.42" width="26.50" height="6.843" fill="#cf99d3"/>
<rect x="231.10" y="374.42" width="26.50" height="6.843" fill="#e5c4e7"/>
<rect x="257.60" y="374.42" width="26.50" height="6.843" fill="#f3e2f3"/>
<rect x="284.10" y="374.42" width="26.50" height="6.843" fill="#ecf8ee"/>
<rect x="45.60" y="381.26" width="26.50" height="6.843" fill="#fbfefc"/>
<rect x="72.10" y="381.26" width="26.50" height="6.843" fill="#dcf2e0"/>
<rect x="98.60" y="381.26" width="26.50" height="6.843" fill="#dcf2e0"/>
<rect x="125.10" y="381.26" width="26.50" height="6.843" fill="#dcf2e0"/>
<rect x="151.60" y="381.26" width="26.50" height="6.843" fill="#dcf2e0"/>
<rect x="178.10" y="381.26" width="26.50" height="6.843" fill="#d5efd9"/>
<rect x="204.60" y="381.26" width="26.50" height="6.843" fill="#f3e2f3"/>
<rect x="231.10" y="381.26" width="26.50" height="6.843" fill="#fbfefc"/>
<rect x="257.60" y="381.26" width="26.50" height="6.843" fill="#d5efd9"/>
<rect x="284.10" y="381.26" width="26.50" height="6.843" fill="#e4f5e7"/>
<rect x="45.60" y="388.11" width="26.50" height="6.843" fill="#ecd2ed"/>
<rect x="72.10" y="388.11" width="26.50" height="6.843" fill="#dcf2e0"/>
<rect x="98.60" y="388.11" width="26.50" height="6.843" fill="#dcf2e0"/>
<rect x="125.10" y="388.11" width="26.50" height="6.843" fill="#e4f5e7"/>
<rect x="151.60" y="388.11" width="26.50" height="6.843" fill="#f7fcf8"/>
<rect x="178.10" y="388.11" width="26.50" height="6.843" fill="#d5efd9"/>
<rect x="204.60" y="388.11" width="26.50" height="6.843" fill="#bd77c2"/>
<rect x="231.10" y="388.11" width="26.50" height="6.843" fill="#dbb0de"/>
<rect x="257.60" y="388.11" width="26.50" height="6.843" fill="#d5efd9"/>
<rect x="284.10" y="388.11" width="26.50" height="6.843" fill="#d5efd9"/>
<rect x="45.60" y="394.95" width="26.50" height="6.843" fill="#dcf2e0"/>
<rect x="72.10" y="394.95" width="26.50" height="6.843" fill="#91d4a0"/>
<rect x="98.60" y="394.95" width="26.50" height="6.843" fill="#91d4a0"/>
<rect x="125.10" y="394.95" width="26.50" height="6.843" fill="#67c485"/>
<rect x="151.60" y="394.95" width="26.50" height="6.843" fill="#91d4a0"/>
<rect x="178.10" y="394.95" width="26.50" height="6.843" fill="#67c485"/>
<rect x="204.60" y="394.95" width="26.50" height="6.843" fill="#fbfefc"/>
<rect x="231.10" y="394.95" width="26.50" height="6.843" fill="#fbfefc"/>
<rect x="257.60" y="394.95" width="26.50" height="6.843" fill="#83cf97"/>
<rect x="284.10" y="394.95" width="26.50" height="6.843" fill="#c1e7c8"/>
<rect x="45.60" y="401.79" width="26.50" height="6.843" fill="#c1e7c8"/>
<rect x="72.10" y="401.79" width="26.50" height="6.843" fill="#ecf8ee"/>
<rect x="98.60" y="401.79" width="26.50" height="6.843" fill="#cdecd2"/>
<rect x="125.10" y="401.79" width="26.50" height="6.843" fill="#b5e2be"/>
<rect x="151.60" y="401.79" width="26.50" height="6.843" fill="#cdecd2"/>
<rect x="178.10" y="401.79" width="26.50" height="6.843" fill="#b5e2be"/>
<rect x="204.60" y="401.79" width="26.50" height="6.843" fill="#f7eaf7"/>
<rect x="231.10" y="401.79" width="26.50" height="6.843" fill="#dcf2e0"/>
<rect x="257.60" y="401.79" width="26.50" height="6.843" fill="#fbfefc"/>
<rect x="284.10" y="401.79" width="26.50" height="6.843" fill="#b5e2be"/>
<rect x="45.60" y="408.64" width="26.50" height="6.843" fill="#a9deb4"/>
<rect x="72.10" y="408.64" width="26.50" height="6.843" fill="#d5efd9"/>
<rect x="98.60" y="408.64" width="26.50" height="6.843" fill="#a9deb4"/>
<rect x="125.10" y="408.64" width="26.50" height="6.843" fill="#a9deb4"/>
<rect x="151.60" y="408.64" width="26.50" height="6.843" fill="#00883d"/>
<rect x="178.10" y="408.64" width="26.50" height="6.843" fill="#008c3f"/>
<rect x="204.60" y="408.64" width="26.50" height="6.843" fill="#f7eaf7"/>
<rect x="231.10" y="408.64" width="26.50" height="6.843" fill="#cdecd2"/>
<rect x="257.60" y="408.64" width="26.50" height="6.843" fill="#dcf2e0"/>
<rect x="284.10" y="408.64" width="26.50" height="6.843" fill="#b5e2be"/>
<rect x="45.60" y="415.48" width="26.50" height="6.843" fill="#9dd9aa"/>
<rect x="72.10" y="415.48" width="26.50" height="6.843" fill="#c1e7c8"/>
<rect x="98.60" y="415.48" width="26.50" height="6.843" fill="#d5efd9"/>
<rect x="125.10" y="415.48" width="26.50" height="6.843" fill="#b5e2be"/>
<rect x="151.60" y="415.48" width="26.50" height="6.843" fill="#d5efd9"/>
<rect x="178.10" y="415.48" width="26.50" height="6.843" fill="#c1e7c8"/>
<rect x="204.60" y="415.48" width="26.50" height="6.843" fill="#fbfefc"/>
<rect x="231.10" y="415.48" width="26.50" height="6.843" fill="#cdecd2"/>
<rect x="257.60" y="415.48" width="26.50" height="6.843" fill="#f7eaf7"/>
<rect x="284.10" y="415.48" width="26.50" height="6.843" fill="#d5efd9"/>
<rect x="45.60" y="422.32" width="26.50" height="6.843" fill="#67c485"/>
<rect x="72.10" y="422.32" width="26.50" height="6.843" fill="#38b168"/>
<rect x="98.60" y="422.32" width="26.50" height="6.843" fill="#67c485"/>
<rect x="125.10" y="422.32" width="26.50" height="6.843" fill="#59be7c"/>
<rect x="151.60" y="422.32" width="26.50" height="6.843" fill="#75c98e"/>
<rect x="178.10" y="422.32" width="26.50" height="6.843" fill="#83cf97"/>
<rect x="204.60" y="422.32" width="26.50" height="6.843" fill="#b5e2be"/>
<rect x="231.10" y="422.32" width="26.50" height="6.843" fill="#83cf97"/>
<rect x="257.60" y="422.32" width="26.50" height="6.843" fill="#cdecd2"/>
<rect x="284.10" y="422.32" width="26.50" height="6.843" fill="#4bb973"/>
<rect x="45.60" y="429.17" width="26.50" height="6.843" fill="#ecf8ee"/>
<rect x="72.10" y="429.17" width="26.50" height="6.843" fill="#f3e2f3"/>
<rect x="98.60" y="429.17" width="26.50" height="6.843" fill="#ffffff"/>
<rect x="125.10" y="429.17" width="26.50" height="6.843" fill="#f7eaf7"/>
<rect x="151.60" y="429.17" width="26.50" height="6.843" fill="#dcf2e0"/>
<rect x="178.10" y="429.17" width="26.50" height="6.843" fill="#fbfefc"/>
<rect x="204.60" y="429.17" width="26.50" height="6.843" fill="#f7eaf7"/>
<rect x="231.10" y="429.17" width="26.50" height="6.843" fill="#f7eaf7"/>
<rect x="257.60" y="429.17" width="26.50" height="6.843" fill="#f7eaf7"/>
<rect x="284.10" y="429.17" width="26.50" height="6.843" fill="#fbfefc"/>
<rect x="45.60" y="436.01" width="26.50" height="6.843" fill="#a9deb4"/>
<rect x="72.10" y="436.01" width="26.50" height="6.843" fill="#c1e7c8"/>
<rect x="98.60" y="436.01" width="26.50" height="6.843" fill="#c1e7c8"/>
<rect x="125.10" y="436.01" width="26.50" height="6.843" fill="#c1e7c8"/>
<rect x="151.60" y="436.01" width="26.50" height="6.843" fill="#cdecd2"/>
<rect x="178.10" y="436.01" width="26.50" height="6.843" fill="#cdecd2"/>
<rect x="204.60" y="436.01" width="26.50" height="6.843" fill="#dcf2e0"/>
<rect x="231.10" y="436.01" width="26.50" height="6.843" fill="#cdecd2"/>
<rect x="257.60" y="436.01" width="26.50" height="6.843" fill="#e4f5e7"/>
<rect x="284.10" y="436.01" width="26.50" height="6.843" fill="#cdecd2"/>
<rect x="45.60" y="442.85" width="26.50" height="6.843" fill="#f0daf0"/>
<rect x="72.10" y="442.85" width="26.50" height="6.843" fill="#e8cbea"/>
<rect x="98.60" y="442.85" width="26.50" height="6.843" fill="#e8cbea"/>
<rect x="125.10" y="442.85" width="26.50" height="6.843" fill="#e1bce4"/>
<rect x="151.60" y="442.85" width="26.50" height="6.843" fill="#ecd2ed"/>
<rect x="178.10" y="442.85" width="26.50" height="6.843" fill="#d5a5d9"/>
<rect x="204.60" y="442.85" width="26.50" height="6.843" fill="#c382c8"/>
<rect x="231.10" y="442.85" width="26.50" height="6.843" fill="#b76cbc"/>
<rect x="257.60" y="442.85" width="26.50" height="6.843" fill="#c382c8"/>
<rect x="284.10" y="442.85" width="26.50" height="6.843" fill="#e1bce4"/>
<rect x="45.60" y="449.69" width="26.50" height="6.843" fill="#cc93d0"/>
<rect x="72.10" y="449.69" width="26.50" height="6.843" fill="#c98ece"/>
<rect x="98.60" y="449.69" width="26.50" height="6.843" fill="#c98ece"/>
<rect x="125.10" y="449.69" width="26.50" height="6.843" fill="#c382c8"/>
<rect x="151.60" y="449.69" width="26.50" height="6.843" fill="#c98ece"/>
<rect x="178.10" y="449.69" width="26.50" height="6.843" fill="#c382c8"/>
<rect x="204.60" y="449.69" width="26.50" height="6.843" fill="#9e42a3"/>
<rect x="231.10" y="449.69" width="26.50" height="6.843" fill="#8b278c"/>
<rect x="257.60" y="449.69" width="26.50" height="6.843" fill="#98399b"/>
<rect x="284.10" y="449.69" width="26.50" height="6.843" fill="#98399b"/>
<rect x="45.60" y="456.54" width="26.50" height="6.843" fill="#f0daf0"/>
<rect x="72.10" y="456.54" width="26.50" height="6.843" fill="#ecd2ed"/>
<rect x="98.60" y="456.54" width="26.50" height="6.843" fill="#ecd2ed"/>
<rect x="125.10" y="456.54" width="26.50" height="6.843" fill="#e5c4e7"/>
<rect x="151.60" y="456.54" width="26.50" height="6.843" fill="#ecd2ed"/>
<rect x="178.10" y="456.54" width="26.50" height="6.843" fill="#e8cbea"/>
<rect x="204.60" y="456.54" width="26.50" height="6.843" fill="#d5a5d9"/>
<rect x="231.10" y="456.54" width="26.50" height="6.843" fill="#cf99d3"/>
<rect x="257.60" y="456.54" width="26.50" height="6.843" fill="#d5a5d9"/>
<rect x="284.10" y="456.54" width="26.50" height="6.843" fill="#dbb0de"/>
<rect x="45.60" y="463.38" width="26.50" height="6.843" fill="#c1e7c8"/>
<rect x="72.10" y="463.38" width="26.50" height="6.843" fill="#c1e7c8"/>
<rect x="98.60" y="463.38" width="26.50" height="6.843" fill="#c1e7c8"/>
<rect x="125.10" y="463.38" width="26.50" height="6.843" fill="#e4f5e7"/>
<rect x="151.60" y="463.38" width="26.50" height="6.843" fill="#d5efd9"/>
<rect x="178.10" y="463.38" width="26.50" height="6.843" fill="#d5efd9"/>
<rect x="204.60" y="463.38" width="26.50" height="6.843" fill="#c1e7c8"/>
<rect x="231.10" y="463.38" width="26.50" height="6.843" fill="#e4f5e7"/>
<rect x="257.60" y="463.38" width="26.50" height="6.843" fill="#c1e7c8"/>
<rect x="284.10" y="463.38" width="26.50" height="6.843" fill="#c1e7c8"/>
<rect x="45.60" y="470.22" width="26.50" height="6.843" fill="#b5e2be"/>
<rect x="72.10" y="470.22" width="26.50" height="6.843" fill="#c1e7c8"/>
<rect x="98.60" y="470.22" width="26.50" height="6.843" fill="#c1e7c8"/>
<rect x="125.10" y="470.22" width="26.50" height="6.843" fill="#d5efd9"/>
<rect x="151.60" y="470.22" width="26.50" height="6.843" fill="#cdecd2"/>
<rect x="178.10" y="470.22" width="26.50" height="6.843" fill="#c1e7c8"/>
<rect x="204.60" y="470.22" width="26.50" height="6.843" fill="#c1e7c8"/>
<rect x="231.10" y="470.22" width="26.50" height="6.843" fill="#d5efd9"/>
<rect x="257.60" y="470.22" width="26.50" height="6.843" fill="#b5e2be"/>
<rect x="284.10" y="470.22" width="26.50" height="6.843" fill="#b5e2be"/>
<rect x="45.60" y="477.07" width="26.50" height="6.843" fill="#d5efd9"/>
<rect x="72.10" y="477.07" width="26.50" height="6.843" fill="#cdecd2"/>
<rect x="98.60" y="477.07" width="26.50" height="6.843" fill="#cdecd2"/>
<rect x="125.10" y="477.07" width="26.50" height="6.843" fill="#fbfefc"/>
<rect x="151.60" y="477.07" width="26.50" height="6.843" fill="#d5efd9"/>
<rect x="178.10" y="477.07" width="26.50" height="6.843" fill="#cdecd2"/>
<rect x="204.60" y="477.07" width="26.50" height="6.843" fill="#cdecd2"/>
<rect x="231.10" y="477.07" width="26.50" height="6.843" fill="#fbfefc"/>
<rect x="257.60" y="477.07" width="26.50" height="6.843" fill="#c1e7c8"/>
<rect x="284.10" y="477.07" width="26.50" height="6.843" fill="#cdecd2"/>
<rect x="45.60" y="483.91" width="26.50" height="6.843" fill="#9dd9aa"/>
<rect x="72.10" y="483.91" width="26.50" height="6.843" fill="#9dd9aa"/>
<rect x="98.60" y="483.91" width="26.50" height="6.843" fill="#83cf97"/>
<rect x="125.10" y="483.91" width="26.50" height="6.843" fill="#cdecd2"/>
<rect x="151.60" y="483.91" width="26.50" height="6.843" fill="#9dd9aa"/>
<rect x="178.10" y="483.91" width="26.50" height="6.843" fill="#9dd9aa"/>
<rect x="204.60" y="483.91" width="26.50" height="6.843" fill="#9dd9aa"/>
<rect x="231.10" y="483.91" width="26.50" height="6.843" fill="#d5efd9"/>
<rect x="257.60" y="483.91" width="26.50" height="6.843" fill="#a9deb4"/>
<rect x="284.10" y="483.91" width="26.50" height="6.843" fill="#9dd9aa"/>
<rect x="45.60" y="490.75" width="26.50" height="6.843" fill="#cc93d0"/>
<rect x="72.10" y="490.75" width="26.50" height="6.843" fill="#fbfefc"/>
<rect x="98.60" y="490.75" width="26.50" height="6.843" fill="#fbfefc"/>
<rect x="125.10" y="490.75" width="26.50" height="6.843" fill="#e4f5e7"/>
<rect x="151.60" y="490.75" width="26.50" height="6.843" fill="#f7eaf7"/>
<rect x="178.10" y="490.75" width="26.50" height="6.843" fill="#e4f5e7"/>
<rect x="204.60" y="490.75" width="26.50" height="6.843" fill="#f7eaf7"/>
<rect x="231.10" y="490.75" width="26.50" height="6.843" fill="#fbfefc"/>
<rect x="257.60" y="490.75" width="26.50" height="6.843" fill="#dcf2e0"/>
<rect x="284.10" y="490.75" width="26.50" height="6.843" fill="#dcf2e0"/>
<rect x="45.60" y="497.60" width="26.50" height="6.843" fill="#ab56b0"/>
<rect x="72.10" y="497.60" width="26.50" height="6.843" fill="#f0daf0"/>
<rect x="98.60" y="497.60" width="26.50" height="6.843" fill="#f0daf0"/>
<rect x="125.10" y="497.60" width="26.50" height="6.843" fill="#b76cbc"/>
<rect x="151.60" y="497.60" width="26.50" height="6.843" fill="#f3e2f3"/>
<rect x="178.10" y="497.60" width="26.50" height="6.843" fill="#f3e2f3"/>
<rect x="204.60" y="497.60" width="26.50" height="6.843" fill="#f3e2f3"/>
<rect x="231.10" y="497.60" width="26.50" height="6.843" fill="#ecd2ed"/>
<rect x="257.60" y="497.60" width="26.50" height="6.843" fill="#f0daf0"/>
<rect x="284.10" y="497.60" width="26.50" height="6.843" fill="#f0daf0"/>
<rect x="45.60" y="504.44" width="26.50" height="6.843" fill="#cdecd2"/>
<rect x="72.10" y="504.44" width="26.50" height="6.843" fill="#91d4a0"/>
<rect x="98.60" y="504.44" width="26.50" height="6.843" fill="#75c98e"/>
<rect x="125.10" y="504.44" width="26.50" height="6.843" fill="#cdecd2"/>
<rect x="151.60" y="504.44" width="26.50" height="6.843" fill="#91d4a0"/>
<rect x="178.10" y="504.44" width="26.50" height="6.843" fill="#91d4a0"/>
<rect x="204.60" y="504.44" width="26.50" height="6.843" fill="#91d4a0"/>
<rect x="231.10" y="504.44" width="26.50" height="6.843" fill="#d5efd9"/>
<rect x="257.60" y="504.44" width="26.50" height="6.843" fill="#91d4a0"/>
<rect x="284.10" y="504.44" width="26.50" height="6.843" fill="#91d4a0"/>
</g>
<g stroke="#a0a0a0" stroke-width="0.45">
<rect x="45.60" y="45.0" width="26.50" height="6.00" fill="#0a72b5"/>
<rect x="72.10" y="45.0" width="26.50" height="6.00" fill="#0a72b5"/>
<rect x="98.60" y="45.0" width="26.50" height="6.00" fill="#0a72b5"/>
<rect x="125.10" y="45.0" width="26.50" height="6.00" fill="#90c8e4"/>
<rect x="151.60" y="45.0" width="26.50" height="6.00" fill="#0a72b5"/>
<rect x="178.10" y="45.0" width="26.50" height="6.00" fill="#0a72b5"/>
<rect x="204.60" y="45.0" width="26.50" height="6.00" fill="#90c8e4"/>
<rect x="231.10" y="45.0" width="26.50" height="6.00" fill="#90c8e4"/>
<rect x="257.60" y="45.0" width="26.50" height="6.00" fill="#90c8e4"/>
<rect x="284.10" y="45.0" width="26.50" height="6.00" fill="#90c8e4"/>
</g>
<text x="312.3" y="50.20" font-size="6.2" font-weight="bold" fill="#000">Season</text>
<g font-size="6.9" fill="#222" stroke="#222" stroke-width="0.06">
<text x="312.3" y="59.02" textLength="68.70" lengthAdjust="spacingAndGlyphs">unkn. Verrucomicrobia(p)</text>
<text x="312.3" y="65.86" textLength="79.64" lengthAdjust="spacingAndGlyphs">unkn. Gemmatimonadetes(p)</text>
<text x="312.3" y="72.71" textLength="67.68" lengthAdjust="spacingAndGlyphs">unkn. Planctomycetes(p)</text>
<text x="312.3" y="79.55" textLength="23.25" lengthAdjust="spacingAndGlyphs">Opitutae</text>
<text x="312.3" y="86.39" textLength="53.32" lengthAdjust="spacingAndGlyphs">unkn. Chloroflexi(p)</text>
<text x="312.3" y="93.24" textLength="38.63" lengthAdjust="spacingAndGlyphs">Acidobacteriia</text>
<text x="312.3" y="100.08" textLength="61.19" lengthAdjust="spacingAndGlyphs">unkn. Acidobacteria(p)</text>
<text x="312.3" y="106.92" textLength="46.59" lengthAdjust="spacingAndGlyphs">Tremellomycetes</text>
<text x="312.3" y="113.77" textLength="31.11" lengthAdjust="spacingAndGlyphs">Cytophagia</text>
<text x="312.3" y="120.61" textLength="61.87" lengthAdjust="spacingAndGlyphs">unkn. Bacteroidetes(p)</text>
<text x="312.3" y="127.45" textLength="45.81" lengthAdjust="spacingAndGlyphs">Sphingobacteriia</text>
<text x="312.3" y="134.29" textLength="42.04" lengthAdjust="spacingAndGlyphs">Fimbriimonadia</text>
<text x="312.3" y="141.14" textLength="55.04" lengthAdjust="spacingAndGlyphs">Alphaproteobacteria</text>
<text x="312.3" y="147.98" textLength="64.26" lengthAdjust="spacingAndGlyphs">unkn. Proteobacteria(p)</text>
<text x="312.3" y="154.82" textLength="46.83" lengthAdjust="spacingAndGlyphs">unkn. Bacteria(d)</text>
<text x="312.3" y="161.67" textLength="71.09" lengthAdjust="spacingAndGlyphs">unkn. unkn. Bacteria(d)(p)</text>
<text x="312.3" y="168.51" textLength="34.51" lengthAdjust="spacingAndGlyphs">Nitriliruptoria</text>
<text x="312.3" y="175.35" textLength="38.97" lengthAdjust="spacingAndGlyphs">Actinobacteria</text>
<text x="312.3" y="182.20" textLength="62.90" lengthAdjust="spacingAndGlyphs">unkn. Actinobacteria(p)</text>
<text x="312.3" y="189.04" textLength="51.96" lengthAdjust="spacingAndGlyphs">Betaproteobacteria</text>
<text x="312.3" y="195.88" textLength="37.61" lengthAdjust="spacingAndGlyphs">Chitinophagia</text>
<text x="312.3" y="202.72" textLength="30.08" lengthAdjust="spacingAndGlyphs">Deinococci</text>
<text x="312.3" y="209.57" textLength="85.78" lengthAdjust="spacingAndGlyphs">unkn. Deinococcus-Thermus(p)</text>
<text x="312.3" y="216.41" textLength="58.10" lengthAdjust="spacingAndGlyphs">Cystobasidiomycetes</text>
<text x="312.3" y="223.25" textLength="58.10" lengthAdjust="spacingAndGlyphs">Agaricostilbomycetes</text>
<text x="312.3" y="230.10" textLength="47.16" lengthAdjust="spacingAndGlyphs">Chytridiomycetes</text>
<text x="312.3" y="236.94" textLength="55.02" lengthAdjust="spacingAndGlyphs">Microbotryomycetes</text>
<text x="312.3" y="243.78" textLength="45.80" lengthAdjust="spacingAndGlyphs">Arthoniomycetes</text>
<text x="312.3" y="250.63" textLength="40.67" lengthAdjust="spacingAndGlyphs">Orbiliomycetes</text>
<text x="312.3" y="257.47" textLength="38.63" lengthAdjust="spacingAndGlyphs">Rubrobacteria</text>
<text x="312.3" y="264.31" textLength="52.98" lengthAdjust="spacingAndGlyphs">Exobasidiomycetes</text>
<text x="312.3" y="271.15" textLength="49.90" lengthAdjust="spacingAndGlyphs">Ustilaginomycetes</text>
<text x="312.3" y="278.00" textLength="64.26" lengthAdjust="spacingAndGlyphs">unkn. Basidiomycota(p)</text>
<text x="312.3" y="284.84" textLength="53.66" lengthAdjust="spacingAndGlyphs">Malasseziomycetes</text>
<text x="312.3" y="291.68" textLength="64.59" lengthAdjust="spacingAndGlyphs">unkn. Mucoromycota(p)</text>
<text x="312.3" y="298.53" textLength="48.54" lengthAdjust="spacingAndGlyphs">Lecanoromycetes</text>
<text x="312.3" y="305.37" textLength="41.70" lengthAdjust="spacingAndGlyphs">Xylonomycetes</text>
<text x="312.3" y="312.21" textLength="48.88" lengthAdjust="spacingAndGlyphs">Saccharomycetes</text>
<text x="312.3" y="319.06" textLength="43.75" lengthAdjust="spacingAndGlyphs">Agaricomycetes</text>
<text x="312.3" y="325.90" textLength="57.42" lengthAdjust="spacingAndGlyphs">unkn. Ascomycota(p)</text>
<text x="312.3" y="332.74" textLength="39.65" lengthAdjust="spacingAndGlyphs">Leotiomycetes</text>
<text x="312.3" y="339.58" textLength="30.42" lengthAdjust="spacingAndGlyphs">Chlamydiia</text>
<text x="312.3" y="346.43" textLength="53.67" lengthAdjust="spacingAndGlyphs">Deltaproteobacteria</text>
<text x="312.3" y="353.27" textLength="46.14" lengthAdjust="spacingAndGlyphs">Pucciniomycetes</text>
<text x="312.3" y="360.11" textLength="46.49" lengthAdjust="spacingAndGlyphs">Taphrinomycetes</text>
<text x="312.3" y="366.96" textLength="31.10" lengthAdjust="spacingAndGlyphs">Oomycetes</text>
<text x="312.3" y="373.80" textLength="63.92" lengthAdjust="spacingAndGlyphs">unkn. Cyanobacteria(p)</text>
<text x="312.3" y="380.64" textLength="25.63" lengthAdjust="spacingAndGlyphs">Clostridia</text>
<text x="312.3" y="387.49" textLength="52.63" lengthAdjust="spacingAndGlyphs">unkn. Firmicutes(p)</text>
<text x="312.3" y="394.33" textLength="30.77" lengthAdjust="spacingAndGlyphs">Bacteroidia</text>
<text x="312.3" y="401.17" textLength="36.92" lengthAdjust="spacingAndGlyphs">Negativicutes</text>
<text x="312.3" y="408.01" textLength="37.94" lengthAdjust="spacingAndGlyphs">Coriobacteriia</text>
<text x="312.3" y="414.86" textLength="41.70" lengthAdjust="spacingAndGlyphs">Erysipelotrichia</text>
<text x="312.3" y="421.70" textLength="43.40" lengthAdjust="spacingAndGlyphs">Mucoromycetes</text>
<text x="312.3" y="428.54" textLength="27.34" lengthAdjust="spacingAndGlyphs">Mollicutes</text>
<text x="312.3" y="435.39" textLength="16.06" lengthAdjust="spacingAndGlyphs">Bacilli</text>
<text x="312.3" y="442.23" textLength="41.35" lengthAdjust="spacingAndGlyphs">Pezizomycetes</text>
<text x="312.3" y="449.07" textLength="42.38" lengthAdjust="spacingAndGlyphs">Eurotiomycetes</text>
<text x="312.3" y="455.92" textLength="47.51" lengthAdjust="spacingAndGlyphs">Dothideomycetes</text>
<text x="312.3" y="462.76" textLength="46.14" lengthAdjust="spacingAndGlyphs">Sordariomycetes</text>
<text x="312.3" y="469.60" textLength="41.70" lengthAdjust="spacingAndGlyphs">Planctomycetia</text>
<text x="312.3" y="476.44" textLength="55.37" lengthAdjust="spacingAndGlyphs">Gemmatimonadetes</text>
<text x="312.3" y="483.29" textLength="43.75" lengthAdjust="spacingAndGlyphs">Thermoleophilia</text>
<text x="312.3" y="490.13" textLength="74.52" lengthAdjust="spacingAndGlyphs">Acidobacteria subdivision 6</text>
<text x="312.3" y="496.97" textLength="38.28" lengthAdjust="spacingAndGlyphs">Flavobacteriia</text>
<text x="312.3" y="503.82" textLength="61.18" lengthAdjust="spacingAndGlyphs">Gammaproteobacteria</text>
<text x="312.3" y="510.66" textLength="37.93" lengthAdjust="spacingAndGlyphs">Acidimicrobiia</text>
</g>
<g font-size="6.9" fill="#222" stroke="#222" stroke-width="0.02">
<text transform="translate(56.65,513.6) rotate(90)" x="0" y="0" textLength="19.49" lengthAdjust="spacingAndGlyphs">NA2-W</text>
<text transform="translate(83.15,513.6) rotate(90)" x="0" y="0" textLength="19.49" lengthAdjust="spacingAndGlyphs">UA1-W</text>
<text transform="translate(109.65,513.6) rotate(90)" x="0" y="0" textLength="19.49" lengthAdjust="spacingAndGlyphs">UA2-W</text>
<text transform="translate(136.15,513.6) rotate(90)" x="0" y="0" textLength="17.82" lengthAdjust="spacingAndGlyphs">NA1-S</text>
<text transform="translate(162.65,513.6) rotate(90)" x="0" y="0" textLength="19.49" lengthAdjust="spacingAndGlyphs">UA3-W</text>
<text transform="translate(189.15,513.6) rotate(90)" x="0" y="0" textLength="19.49" lengthAdjust="spacingAndGlyphs">NA1-W</text>
<text transform="translate(215.65,513.6) rotate(90)" x="0" y="0" textLength="17.82" lengthAdjust="spacingAndGlyphs">UA1-S</text>
<text transform="translate(242.15,513.6) rotate(90)" x="0" y="0" textLength="17.82" lengthAdjust="spacingAndGlyphs">UA3-S</text>
<text transform="translate(268.65,513.6) rotate(90)" x="0" y="0" textLength="17.82" lengthAdjust="spacingAndGlyphs">UA2-S</text>
<text transform="translate(295.15,513.6) rotate(90)" x="0" y="0" textLength="17.82" lengthAdjust="spacingAndGlyphs">NA2-S</text>
</g>
<path d="M44.70 76.75L45.60 76.75 M44.70 83.59L45.60 83.59 M44.70 76.75L44.70 83.59 M44.50 69.91L45.60 69.91 M44.50 80.17L44.70 80.17 M44.50 69.91L44.50 80.17 M44.30 63.06L45.60 63.06 M44.30 75.04L44.50 75.04 M44.30 63.06L44.30 75.04 M44.00 56.22L45.60 56.22 M44.00 69.05L44.30 69.05 M44.00 56.22L44.00 69.05 M43.20 90.44L45.60 90.44 M43.20 97.28L45.60 97.28 M43.20 90.44L43.20 97.28 M38.40 62.64L44.00 62.64 M38.40 93.86L43.20 93.86 M38.40 62.64L38.40 93.86 M44.50 110.97L45.60 110.97 M44.50 117.81L45.60 117.81 M44.50 110.97L44.50 117.81 M43.50 104.12L45.60 104.12 M43.50 114.39L44.50 114.39 M43.50 104.12L43.50 114.39 M44.70 131.49L45.60 131.49 M44.70 138.34L45.60 138.34 M44.70 131.49L44.70 138.34 M44.80 152.02L45.60 152.02 M44.80 158.87L45.60 158.87 M44.80 152.02L44.80 158.87 M44.60 145.18L45.60 145.18 M44.60 155.44L44.80 155.44 M44.60 145.18L44.60 155.44 M44.50 134.92L44.70 134.92 M44.50 150.31L44.60 150.31 M44.50 134.92L44.50 150.31 M42.90 124.65L45.60 124.65 M42.90 142.61L44.50 142.61 M42.90 124.65L42.90 142.61 M41.50 109.25L43.50 109.25 M41.50 133.63L42.90 133.63 M41.50 109.25L41.50 133.63 M44.50 172.55L45.60 172.55 M44.50 179.40L45.60 179.40 M44.50 172.55L44.50 179.40 M42.80 165.71L45.60 165.71 M42.80 175.97L44.50 175.97 M42.80 165.71L42.80 175.97 M42.80 186.24L45.60 186.24 M42.80 193.08L45.60 193.08 M42.80 186.24L42.80 193.08 M38.70 170.84L42.80 170.84 M38.70 189.66L42.80 189.66 M38.70 170.84L38.70 189.66 M36.30 121.44L41.50 121.44 M36.30 180.25L38.70 180.25 M36.30 121.44L36.30 180.25 M33.70 78.25L38.40 78.25 M33.70 150.85L36.30 150.85 M33.70 78.25L33.70 150.85 M44.30 199.92L45.60 199.92 M44.30 206.77L45.60 206.77 M44.30 199.92L44.30 206.77 M44.30 213.61L45.60 213.61 M44.30 220.45L45.60 220.45 M44.30 213.61L44.30 220.45 M44.50 234.14L45.60 234.14 M44.50 240.98L45.60 240.98 M44.50 234.14L44.50 240.98 M42.40 227.30L45.60 227.30 M42.40 237.56L44.50 237.56 M42.40 227.30L42.40 237.56 M39.60 217.03L44.30 217.03 M39.60 232.43L42.40 232.43 M39.60 217.03L39.60 232.43 M31.80 203.35L44.30 203.35 M31.80 224.73L39.60 224.73 M31.80 203.35L31.80 224.73 M18.50 114.55L33.70 114.55 M18.50 214.04L31.80 214.04 M18.50 114.55L18.50 214.04 M36.20 247.83L45.60 247.83 M36.20 254.67L45.60 254.67 M36.20 247.83L36.20 254.67 M44.70 275.20L45.60 275.20 M44.70 282.04L45.60 282.04 M44.70 275.20L44.70 282.04 M44.30 268.35L45.60 268.35 M44.30 278.62L44.70 278.62 M44.30 268.35L44.30 278.62 M39.60 261.51L45.60 261.51 M39.60 273.49L44.30 273.49 M39.60 261.51L39.60 273.49 M44.50 295.73L45.60 295.73 M44.50 302.57L45.60 302.57 M44.50 295.73L44.50 302.57 M42.80 288.88L45.60 288.88 M42.80 299.15L44.50 299.15 M42.80 288.88L42.80 299.15 M41.40 309.41L45.60 309.41 M41.40 316.26L45.60 316.26 M41.40 309.41L41.40 316.26 M43.00 323.10L45.60 323.10 M43.00 329.94L45.60 329.94 M43.00 323.10L43.00 329.94 M37.70 312.83L41.40 312.83 M37.70 326.52L43.00 326.52 M37.70 312.83L37.70 326.52 M36.90 294.02L42.80 294.02 M36.90 319.68L37.70 319.68 M36.90 294.02L36.90 319.68 M32.20 267.50L39.60 267.50 M32.20 306.85L36.90 306.85 M32.20 267.50L32.20 306.85 M28.40 251.25L36.20 251.25 M28.40 287.17L32.20 287.17 M28.40 251.25L28.40 287.17 M39.90 343.63L45.60 343.63 M39.90 350.47L45.60 350.47 M39.90 343.63L39.90 350.47 M36.90 336.78L45.60 336.78 M36.90 347.05L39.90 347.05 M36.90 336.78L36.90 347.05 M40.00 364.16L45.60 364.16 M40.00 371.00L45.60 371.00 M40.00 364.16L40.00 371.00 M36.20 357.31L45.60 357.31 M36.20 367.58L40.00 367.58 M36.20 357.31L36.20 367.58 M28.40 341.92L36.90 341.92 M28.40 362.45L36.20 362.45 M28.40 341.92L28.40 362.45 M44.60 391.53L45.60 391.53 M44.60 398.37L45.60 398.37 M44.60 391.53L44.60 398.37 M44.30 384.69L45.60 384.69 M44.30 394.95L44.60 394.95 M44.30 384.69L44.30 394.95 M43.60 377.84L45.60 377.84 M43.60 389.82L44.30 389.82 M43.60 377.84L43.60 389.82 M42.80 405.21L45.60 405.21 M42.80 412.06L45.60 412.06 M42.80 405.21L42.80 412.06 M38.40 383.83L43.60 383.83 M38.40 408.64L42.80 408.64 M38.40 383.83L38.40 408.64 M44.20 418.90L45.60 418.90 M44.20 425.74L45.60 425.74 M44.20 418.90L44.20 425.74 M44.30 446.27L45.60 446.27 M44.30 453.12L45.60 453.12 M44.30 446.27L44.30 453.12 M43.00 439.43L45.60 439.43 M43.00 449.69L44.30 449.69 M43.00 439.43L43.00 449.69 M39.90 432.59L45.60 432.59 M39.90 444.56L43.00 444.56 M39.90 432.59L39.90 444.56 M36.20 422.32L44.20 422.32 M36.20 438.57L39.90 438.57 M36.20 422.32L36.20 438.57 M33.20 396.23L38.40 396.23 M33.20 430.45L36.20 430.45 M33.20 396.23L33.20 430.45 M42.30 459.96L45.60 459.96 M42.30 466.80L45.60 466.80 M42.30 459.96L42.30 466.80 M44.30 473.64L45.60 473.64 M44.30 480.49L45.60 480.49 M44.30 473.64L44.30 480.49 M43.50 477.07L44.30 477.07 M43.50 487.33L45.60 487.33 M43.50 477.07L43.50 487.33 M41.00 463.38L42.30 463.38 M41.00 482.20L43.50 482.20 M41.00 463.38L41.00 482.20 M42.10 501.02L45.60 501.02 M42.10 507.86L45.60 507.86 M42.10 501.02L42.10 507.86 M34.30 494.17L45.60 494.17 M34.30 504.44L42.10 504.44 M34.30 494.17L34.30 504.44 M26.30 472.79L41.00 472.79 M26.30 499.31L34.30 499.31 M26.30 472.79L26.30 499.31 M19.20 413.34L33.20 413.34 M19.20 486.05L26.30 486.05 M19.20 413.34L19.20 486.05 M17.70 352.18L28.40 352.18 M17.70 449.69L19.20 449.69 M17.70 352.18L17.70 449.69 M14.50 269.21L28.40 269.21 M14.50 400.94L17.70 400.94 M14.50 269.21L14.50 400.94 M13.30 164.29L18.50 164.29 M13.30 335.07L14.50 335.07 M13.30 164.29L13.30 335.07 M85.35 41.40L85.35 45.00 M111.85 41.40L111.85 45.00 M85.35 41.40L111.85 41.40 M164.85 40.60L164.85 45.00 M191.35 40.60L191.35 45.00 M164.85 40.60L191.35 40.60 M138.35 36.50L138.35 45.00 M178.10 36.50L178.10 40.60 M138.35 36.50L178.10 36.50 M98.60 34.80L98.60 41.40 M158.22 34.80L158.22 36.50 M98.60 34.80L158.22 34.80 M58.85 30.50L58.85 45.00 M128.41 30.50L128.41 34.80 M58.85 30.50L128.41 30.50 M217.85 35.30L217.85 45.00 M244.35 35.30L244.35 45.00 M217.85 35.30L244.35 35.30 M270.85 32.20L270.85 45.00 M297.35 32.20L297.35 45.00 M270.85 32.20L297.35 32.20 M231.10 20.30L231.10 35.30 M284.10 20.30L284.10 32.20 M231.10 20.30L284.10 20.30 M93.63 11.50L93.63 30.50 M257.60 11.50L257.60 20.30 M93.63 11.50L257.60 11.50" stroke="#5a5a5a" stroke-width="0.75" fill="none" stroke-linecap="square"/>
<defs><linearGradient id="lg" x1="0" y1="1" x2="0" y2="0">
<stop offset="0.0000" stop-color="#007630"/>
<stop offset="0.0852" stop-color="#009848"/>
<stop offset="0.1663" stop-color="#4bb973"/>
<stop offset="0.2677" stop-color="#91d4a0"/>
<stop offset="0.3692" stop-color="#cdecd2"/>
<stop offset="0.5010" stop-color="#ffffff"/>
<stop offset="0.5923" stop-color="#f0daf0"/>
<stop offset="0.6734" stop-color="#e1bce4"/>
<stop offset="0.7748" stop-color="#c382c8"/>
<stop offset="0.8763" stop-color="#a54baa"/>
<stop offset="1.0000" stop-color="#7d147d"/>
</linearGradient></defs>
<rect x="435.2" y="57.1" width="8.40" height="127.70" fill="url(#lg)"/>
<text x="446.9" y="76.30" font-size="8.9" fill="#2a2a2a" stroke="#2a2a2a" stroke-width="0.15">2</text>
<text x="446.9" y="102.20" font-size="8.9" fill="#2a2a2a" stroke="#2a2a2a" stroke-width="0.15">1</text>
<text x="446.9" y="128.10" font-size="8.9" fill="#2a2a2a" stroke="#2a2a2a" stroke-width="0.15">0</text>
<text x="446.9" y="154.00" font-size="8.9" fill="#2a2a2a" stroke="#2a2a2a" stroke-width="0.15">-1</text>
<text x="446.9" y="179.90" font-size="8.9" fill="#2a2a2a" stroke="#2a2a2a" stroke-width="0.15">-2</text>
<text x="460.6" y="63.0" font-size="8.3" font-weight="bold" fill="#111" stroke="#111" stroke-width="0.15">Season</text>
<rect x="460.3" y="67.1" width="13.8" height="14.0" fill="#90c8e4"/>
<rect x="460.3" y="81.1" width="13.8" height="13.6" fill="#0a72b5"/>
<text class="sf" x="478.9" y="78.0" font-size="10.3" fill="#222" stroke="#222" stroke-width="0.12">Summer</text>
<text class="sf" x="478.9" y="92.0" font-size="10.3" fill="#222" stroke="#222" stroke-width="0.12">Winter</text>
<defs>
<clipPath id="cB"><ellipse cx="436.60" cy="457.60" rx="62.50" ry="30.00" transform="rotate(44.60 436.60 457.60)"/></clipPath>
<clipPath id="cY"><ellipse cx="462.80" cy="442.30" rx="62.30" ry="30.35" transform="rotate(45.20 462.80 442.30)"/></clipPath>
<clipPath id="cG"><ellipse cx="469.60" cy="442.30" rx="62.30" ry="30.35" transform="rotate(-45.20 469.60 442.30)"/></clipPath>
<clipPath id="cR"><ellipse cx="495.80" cy="457.60" rx="62.50" ry="30.00" transform="rotate(-44.60 495.80 457.60)"/></clipPath>
</defs>
<ellipse cx="436.60" cy="457.60" rx="62.50" ry="30.00" transform="rotate(44.60 436.60 457.60)" fill="#a8a8f6"/>
<ellipse cx="462.80" cy="442.30" rx="62.30" ry="30.35" transform="rotate(45.20 462.80 442.30)" fill="#fafaa3"/>
<ellipse cx="469.60" cy="442.30" rx="62.30" ry="30.35" transform="rotate(-45.20 469.60 442.30)" fill="#82f0aa"/>
<ellipse cx="495.80" cy="457.60" rx="62.50" ry="30.00" transform="rotate(-44.60 495.80 457.60)" fill="#f8aaae"/>
<g clip-path="url(#cB)"><ellipse cx="462.80" cy="442.30" rx="62.30" ry="30.35" transform="rotate(45.20 462.80 442.30)" fill="#c8c5a6"/></g>
<g clip-path="url(#cB)"><ellipse cx="469.60" cy="442.30" rx="62.30" ry="30.35" transform="rotate(-45.20 469.60 442.30)" fill="#22c0a2"/></g>
<g clip-path="url(#cB)"><ellipse cx="495.80" cy="457.60" rx="62.50" ry="30.00" transform="rotate(-44.60 495.80 457.60)" fill="#d260b0"/></g>
<g clip-path="url(#cY)"><ellipse cx="469.60" cy="442.30" rx="62.30" ry="30.35" transform="rotate(-45.20 469.60 442.30)" fill="#82ee5c"/></g>
<g clip-path="url(#cY)"><ellipse cx="495.80" cy="457.60" rx="62.50" ry="30.00" transform="rotate(-44.60 495.80 457.60)" fill="#faab68"/></g>
<g clip-path="url(#cG)"><ellipse cx="495.80" cy="457.60" rx="62.50" ry="30.00" transform="rotate(-44.60 495.80 457.60)" fill="#c8a574"/></g>
<g clip-path="url(#cY)"><g clip-path="url(#cB)"><ellipse cx="469.60" cy="442.30" rx="62.30" ry="30.35" transform="rotate(-45.20 469.60 442.30)" fill="#46d86c"/></g></g>
<g clip-path="url(#cY)"><g clip-path="url(#cB)"><ellipse cx="495.80" cy="457.60" rx="62.50" ry="30.00" transform="rotate(-44.60 495.80 457.60)" fill="#f0806a"/></g></g>
<g clip-path="url(#cG)"><g clip-path="url(#cB)"><ellipse cx="495.80" cy="457.60" rx="62.50" ry="30.00" transform="rotate(-44.60 495.80 457.60)" fill="#b48872"/></g></g>
<g clip-path="url(#cG)"><g clip-path="url(#cY)"><ellipse cx="495.80" cy="457.60" rx="62.50" ry="30.00" transform="rotate(-44.60 495.80 457.60)" fill="#cfaa44"/></g></g>
<g clip-path="url(#cG)"><g clip-path="url(#cY)"><g clip-path="url(#cB)"><ellipse cx="495.80" cy="457.60" rx="62.50" ry="30.00" transform="rotate(-44.60 495.80 457.60)" fill="#b48f46"/></g></g></g>
<ellipse cx="436.60" cy="457.60" rx="62.50" ry="30.00" transform="rotate(44.60 436.60 457.60)" fill="none" stroke="#383838" stroke-width="0.7"/>
<ellipse cx="462.80" cy="442.30" rx="62.30" ry="30.35" transform="rotate(45.20 462.80 442.30)" fill="none" stroke="#383838" stroke-width="0.7"/>
<ellipse cx="469.60" cy="442.30" rx="62.30" ry="30.35" transform="rotate(-45.20 469.60 442.30)" fill="none" stroke="#383838" stroke-width="0.7"/>
<ellipse cx="495.80" cy="457.60" rx="62.50" ry="30.00" transform="rotate(-44.60 495.80 457.60)" fill="none" stroke="#383838" stroke-width="0.7"/>
<text class="sf" x="430.7" y="382.9" font-size="7.4" font-weight="bold" text-anchor="middle" fill="#111">NA-W</text>
<text class="sf" x="500.8" y="382.9" font-size="7.4" font-weight="bold" text-anchor="middle" fill="#111">UA-S</text>
<text class="sf" x="406.7" y="506.2" font-size="7.4" font-weight="bold" text-anchor="middle" fill="#111">UA-W</text>
<text class="sf" x="524.2" y="509.2" font-size="7.4" font-weight="bold" text-anchor="middle" fill="#111">NA-S</text>
<text class="sf" x="441.7" y="405.7" font-size="6.0" font-weight="bold" text-anchor="middle" fill="#111">11</text>
<text class="sf" x="441.7" y="410.6" font-size="4.3" font-weight="bold" text-anchor="middle" fill="#1a1a1a">(5.7%)</text>
<text class="sf" x="493.8" y="405.5" font-size="6.0" font-weight="bold" text-anchor="middle" fill="#111">3</text>
<text class="sf" x="493.8" y="410.4" font-size="4.3" font-weight="bold" text-anchor="middle" fill="#1a1a1a">(1.6%)</text>
<text class="sf" x="410.9" y="443.1" font-size="6.0" font-weight="bold" text-anchor="middle" fill="#111">2</text>
<text class="sf" x="410.9" y="448.0" font-size="4.3" font-weight="bold" text-anchor="middle" fill="#1a1a1a">(1%)</text>
<text class="sf" x="524.7" y="443.1" font-size="6.0" font-weight="bold" text-anchor="middle" fill="#111">3</text>
<text class="sf" x="524.7" y="448.0" font-size="4.3" font-weight="bold" text-anchor="middle" fill="#1a1a1a">(1.6%)</text>
<text class="sf" x="428.5" y="424.9" font-size="6.0" font-weight="bold" text-anchor="middle" fill="#111">2</text>
<text class="sf" x="428.5" y="429.8" font-size="4.3" font-weight="bold" text-anchor="middle" fill="#1a1a1a">(1%)</text>
<text class="sf" x="467.2" y="423.3" font-size="6.0" font-weight="bold" text-anchor="middle" fill="#111">4</text>
<text class="sf" x="467.2" y="428.2" font-size="4.3" font-weight="bold" text-anchor="middle" fill="#1a1a1a">(2.1%)</text>
<text class="sf" x="506.7" y="424.9" font-size="6.0" font-weight="bold" text-anchor="middle" fill="#111">0</text>
<text class="sf" x="506.7" y="429.8" font-size="4.3" font-weight="bold" text-anchor="middle" fill="#1a1a1a">(0%)</text>
<text class="sf" x="445.8" y="447.1" font-size="6.0" font-weight="bold" text-anchor="middle" fill="#111">5</text>
<text class="sf" x="445.8" y="452.0" font-size="4.3" font-weight="bold" text-anchor="middle" fill="#1a1a1a">(2.6%)</text>
<text class="sf" x="488.2" y="447.1" font-size="6.0" font-weight="bold" text-anchor="middle" fill="#111">1</text>
<text class="sf" x="488.2" y="452.0" font-size="4.3" font-weight="bold" text-anchor="middle" fill="#1a1a1a">(0.5%)</text>
<text class="sf" x="466.6" y="464.7" font-size="6.0" font-weight="bold" text-anchor="middle" fill="#111">150</text>
<text class="sf" x="466.6" y="469.6" font-size="4.3" font-weight="bold" text-anchor="middle" fill="#1a1a1a">(78.1%)</text>
<text class="sf" x="434.7" y="470.9" font-size="6.0" font-weight="bold" text-anchor="middle" fill="#111">2</text>
<text class="sf" x="434.7" y="475.8" font-size="4.3" font-weight="bold" text-anchor="middle" fill="#1a1a1a">(1%)</text>
<text class="sf" x="499.9" y="470.9" font-size="6.0" font-weight="bold" text-anchor="middle" fill="#111">2</text>
<text class="sf" x="499.9" y="475.8" font-size="4.3" font-weight="bold" text-anchor="middle" fill="#1a1a1a">(1%)</text>
<text class="sf" x="453.0" y="482.1" font-size="6.0" font-weight="bold" text-anchor="middle" fill="#111">0</text>
<text class="sf" x="453.0" y="487.0" font-size="4.3" font-weight="bold" text-anchor="middle" fill="#1a1a1a">(0%)</text>
<text class="sf" x="479.5" y="482.1" font-size="6.0" font-weight="bold" text-anchor="middle" fill="#111">7</text>
<text class="sf" x="479.5" y="487.0" font-size="4.3" font-weight="bold" text-anchor="middle" fill="#1a1a1a">(3.6%)</text>
<text class="sf" x="467.5" y="495.6" font-size="6.0" font-weight="bold" text-anchor="middle" fill="#111">0</text>
<text class="sf" x="467.5" y="500.5" font-size="4.3" font-weight="bold" text-anchor="middle" fill="#1a1a1a">(0%)</text>
</svg></body></html>
